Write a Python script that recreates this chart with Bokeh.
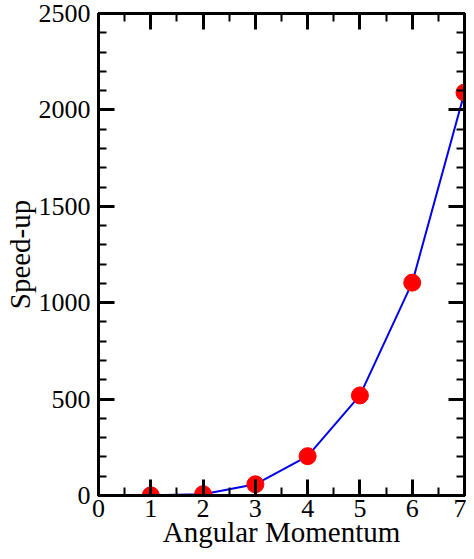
from bokeh.plotting import figure
from bokeh.models import LinearAxis, Range1d, SingleIntervalTicker, CustomJSTickFormatter
from bokeh.embed import file_html
from bokeh.resources import INLINE

angular_momentum = [1, 2, 3, 4, 5, 6, 7]
speed_up = [1, 7, 58, 204, 519, 1104, 2090]

FONT = "Liberation Serif"

p = figure(width=466, height=551, output_backend="svg", toolbar_location=None,
           x_range=Range1d(0, 7), y_range=Range1d(0, 2500),
           x_axis_label="Angular Momentum", y_axis_label="Speed-up",
           min_border_left=93, min_border_right=2, min_border_top=13, min_border_bottom=56)

p.grid.visible = False
p.outline_line_color = "black"
p.outline_line_width = 3
p.background_fill_color = "white"
p.border_fill_color = "white"

def style(ax):
    ax.axis_line_width = 3
    ax.axis_line_color = "black"
    ax.major_tick_in = 16
    ax.major_tick_out = 0
    ax.minor_tick_in = 8
    ax.minor_tick_out = 0
    ax.major_tick_line_width = 3
    ax.minor_tick_line_width = 2
    ax.major_tick_line_color = "black"
    ax.minor_tick_line_color = "black"
    ax.axis_label_text_font = FONT
    ax.axis_label_text_font_style = "normal"
    ax.axis_label_text_font_size = "29px"
    ax.axis_label_text_color = "black"
    ax.major_label_text_font = FONT
    ax.major_label_text_font_size = "26px"
    ax.major_label_text_color = "black"

for ax in p.xaxis:
    ax.ticker = SingleIntervalTicker(interval=1, num_minor_ticks=2)
    style(ax)
    ax.major_label_standoff = 4
    ax.axis_label_standoff = -4
for ax in p.yaxis:
    ax.ticker = SingleIntervalTicker(interval=500, num_minor_ticks=5)
    style(ax)
    ax.major_label_standoff = 8
    ax.axis_label_standoff = 0

blank = CustomJSTickFormatter(code="return '';")
top = LinearAxis(ticker=SingleIntervalTicker(interval=1, num_minor_ticks=2), formatter=blank)
style(top)
top.major_label_standoff = 0
right = LinearAxis(ticker=SingleIntervalTicker(interval=500, num_minor_ticks=5), formatter=blank)
style(right)
right.major_label_standoff = 0
p.add_layout(top, "above")
p.add_layout(right, "right")

p.line(angular_momentum, speed_up, line_color="#0000ee", line_width=2)
p.scatter(angular_momentum, speed_up, size=17, fill_color="red", line_color="red")

open("out.html", "w").write(file_html(p, INLINE))
